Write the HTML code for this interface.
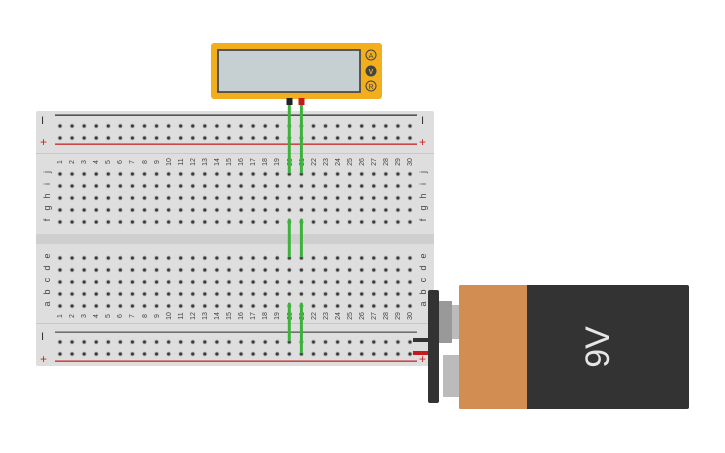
<!DOCTYPE html>
<html><head><meta charset="utf-8"><style>html,body{margin:0;padding:0;background:#fff;width:725px;height:453px;overflow:hidden}</style></head>
<body>
<svg width="725" height="453" viewBox="0 0 725 453" xmlns="http://www.w3.org/2000/svg" font-family="Liberation Sans, sans-serif">
<defs>
<pattern id="h" x="53.966" y="0" width="12.069" height="12" patternUnits="userSpaceOnUse">
<circle cx="6.034" cy="6" r="2.5" fill="#c4c4c4"/><circle cx="6.034" cy="6" r="1.6" fill="#3a3a3a"/>
</pattern>
</defs>
<!-- breadboard -->
<rect x="36" y="111" width="398" height="255" rx="2" fill="#dedede"/>
<rect x="36" y="153" width="398" height="1" fill="#c8c8c8"/>
<rect x="36" y="323" width="398" height="1" fill="#c8c8c8"/>
<rect x="36" y="234" width="398" height="10" fill="#cfcfcf"/>
<rect x="54" y="118" width="362" height="24" fill="url(#h)"/>
<rect x="54" y="166" width="362" height="60" fill="url(#h)"/>
<rect x="54" y="250" width="362" height="60" fill="url(#h)"/>
<rect x="54" y="334" width="362" height="24" fill="url(#h)"/>
<rect x="55" y="114.5" width="362" height="1.3" fill="#333"/>
<rect x="55" y="143.5" width="362" height="1.3" fill="#c22"/>
<rect x="55" y="331.5" width="362" height="1.3" fill="#555"/>
<rect x="55" y="360.5" width="362" height="1.3" fill="#c22"/>
<g font-size="11" fill="#333"><text x="41" y="124">I</text><text x="421" y="124">I</text><text x="41" y="340">I</text></g>
<g font-size="12" fill="#c22"><text x="40" y="146">+</text><text x="419" y="146">+</text><text x="40" y="363">+</text><text x="419" y="363">+</text></g>
<g font-size="7" fill="#444" text-anchor="middle" transform="rotate(-90)">
<g>
<text x="-162" y="62">1</text><text x="-162" y="74">2</text><text x="-162" y="86">3</text><text x="-162" y="98">4</text><text x="-162" y="110">5</text><text x="-162" y="122">6</text><text x="-162" y="134">7</text><text x="-162" y="147">8</text><text x="-162" y="159">9</text><text x="-162" y="171">10</text><text x="-162" y="183">11</text><text x="-162" y="195">12</text><text x="-162" y="207">13</text><text x="-162" y="219">14</text><text x="-162" y="231">15</text><text x="-162" y="243">16</text><text x="-162" y="255">17</text><text x="-162" y="267">18</text><text x="-162" y="279">19</text><text x="-162" y="292">20</text><text x="-162" y="304">21</text><text x="-162" y="316">22</text><text x="-162" y="328">23</text><text x="-162" y="340">24</text><text x="-162" y="352">25</text><text x="-162" y="364">26</text><text x="-162" y="376">27</text><text x="-162" y="388">28</text><text x="-162" y="400">29</text><text x="-162" y="412">30</text>
</g>
<g>
<text x="-316" y="62">1</text><text x="-316" y="74">2</text><text x="-316" y="86">3</text><text x="-316" y="98">4</text><text x="-316" y="110">5</text><text x="-316" y="122">6</text><text x="-316" y="134">7</text><text x="-316" y="147">8</text><text x="-316" y="159">9</text><text x="-316" y="171">10</text><text x="-316" y="183">11</text><text x="-316" y="195">12</text><text x="-316" y="207">13</text><text x="-316" y="219">14</text><text x="-316" y="231">15</text><text x="-316" y="243">16</text><text x="-316" y="255">17</text><text x="-316" y="267">18</text><text x="-316" y="279">19</text><text x="-316" y="292">20</text><text x="-316" y="304">21</text><text x="-316" y="316">22</text><text x="-316" y="328">23</text><text x="-316" y="340">24</text><text x="-316" y="352">25</text><text x="-316" y="364">26</text><text x="-316" y="376">27</text><text x="-316" y="388">28</text><text x="-316" y="400">29</text><text x="-316" y="412">30</text>
</g>
<g font-size="9">
<text x="-172" y="50">j</text><text x="-184" y="50">i</text><text x="-196" y="50">h</text><text x="-208" y="50">g</text><text x="-220" y="50">f</text>
<text x="-256" y="50">e</text><text x="-268" y="50">d</text><text x="-280" y="50">c</text><text x="-292" y="50">b</text><text x="-304" y="50">a</text>
<text x="-172" y="426">j</text><text x="-184" y="426">i</text><text x="-196" y="426">h</text><text x="-208" y="426">g</text><text x="-220" y="426">f</text>
<text x="-256" y="426">e</text><text x="-268" y="426">d</text><text x="-280" y="426">c</text><text x="-292" y="426">b</text><text x="-304" y="426">a</text>
</g>
</g>
<!-- wires -->
<g stroke="#3bb33b" stroke-width="3" stroke-linecap="round">
<line x1="289.3" y1="104" x2="289.3" y2="172"/>
<line x1="301.4" y1="104" x2="301.4" y2="172"/>
<line x1="289.3" y1="220" x2="289.3" y2="256"/>
<line x1="301.4" y1="220" x2="301.4" y2="256"/>
<line x1="289.3" y1="304" x2="289.3" y2="340"/>
<line x1="301.4" y1="304" x2="301.4" y2="352"/>
</g>
<!-- meter -->
<rect x="211" y="43" width="171" height="56" rx="3" fill="#f2ae1c"/>
<rect x="218" y="50" width="142" height="42" fill="#c6cfd1" stroke="#4a4a4a" stroke-width="1.8"/>
<circle cx="371" cy="55" r="5" fill="none" stroke="#444" stroke-width="1"/><text x="371" y="58" font-size="7" text-anchor="middle" fill="#444">A</text>
<circle cx="371" cy="71" r="5.5" fill="#444"/><text x="371" y="74" font-size="7" text-anchor="middle" fill="#f2ae1c" font-weight="bold">V</text>
<circle cx="371" cy="86" r="5" fill="none" stroke="#444" stroke-width="1"/><text x="371" y="89" font-size="7" text-anchor="middle" fill="#444">R</text>
<rect x="286.5" y="98" width="6" height="7" fill="#222"/>
<rect x="298.5" y="98" width="6" height="7" fill="#c41a1a"/>
<!-- battery -->
<rect x="438" y="301" width="14" height="42" fill="#999"/>
<rect x="452" y="305" width="8" height="34" fill="#bbb"/>
<rect x="443" y="355" width="17" height="42" fill="#bbb"/>
<path d="M413 340 h15" stroke="#333" stroke-width="4"/>
<path d="M413 353 h15" stroke="#c41a1a" stroke-width="4"/>
<rect x="428" y="290" width="11" height="113" rx="2" fill="#333"/>
<rect x="459" y="285" width="230" height="124" rx="2" fill="#333"/>
<path d="M461 285 h66 v124 h-66 a2 2 0 0 1 -2 -2 v-120 a2 2 0 0 1 2 -2z" fill="#d18d52"/>
<text transform="translate(609,347) rotate(-90)" font-size="34" fill="#e6e6e6" text-anchor="middle">9V</text>
</svg>
</body></html>
